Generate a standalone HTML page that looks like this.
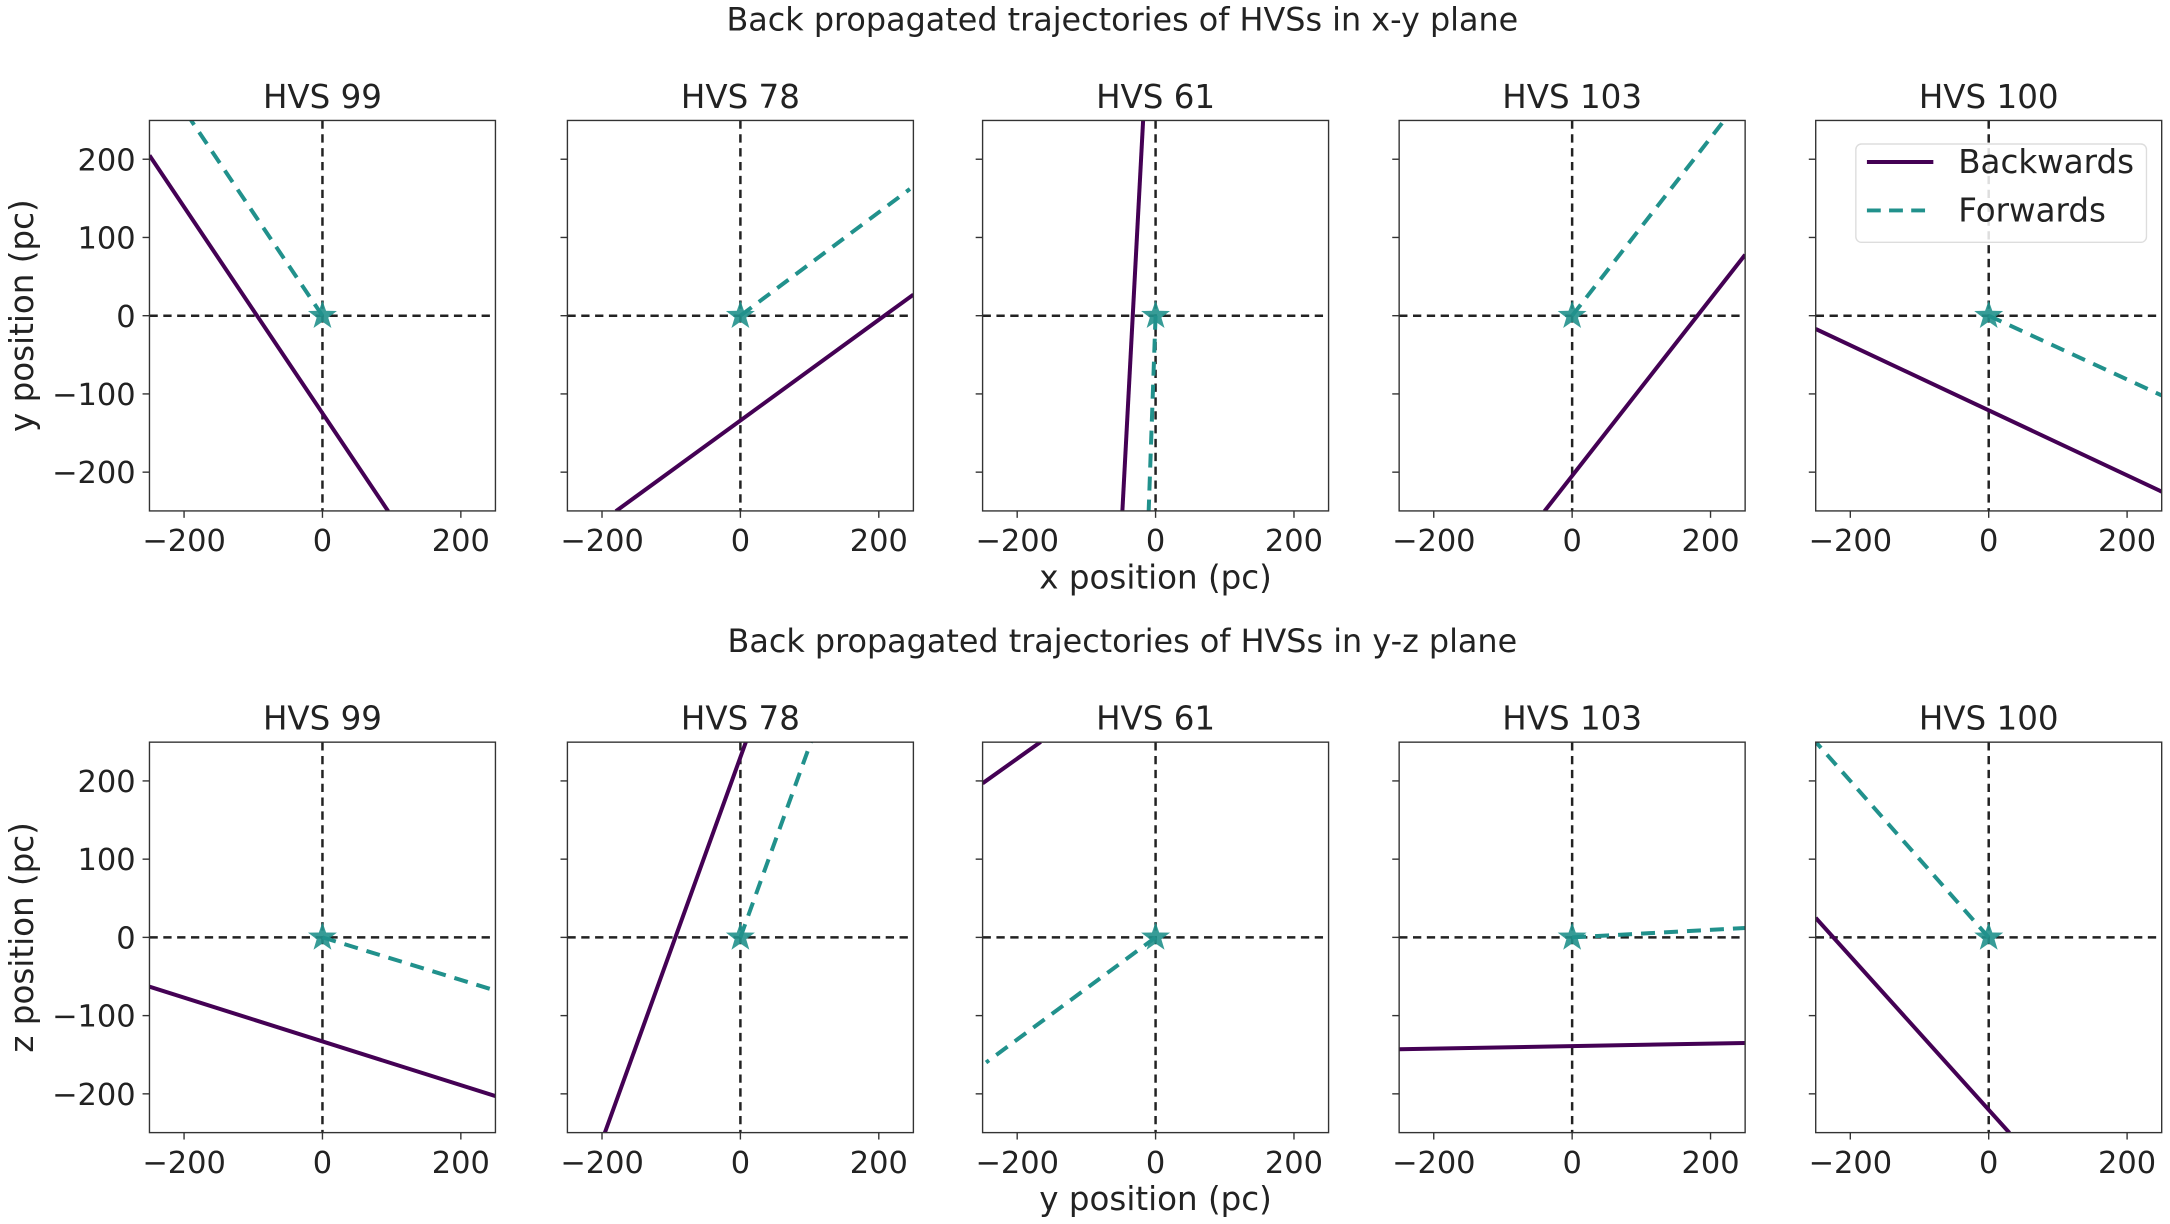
<!DOCTYPE html>
<html><head><meta charset="utf-8"><style>
html,body{margin:0;padding:0;background:#fff}
svg{display:block}
text{font-family:"DejaVu Sans","Liberation Sans",sans-serif;fill:#222}
</style></head><body>
<svg width="2170" height="1224" viewBox="0 0 1568 884" preserveAspectRatio="none" xmlns="http://www.w3.org/2000/svg">
<defs>
<clipPath id="c"><rect x="-125" y="-141" width="250" height="282"/></clipPath>
<g id="star"><polygon points="0,-11 2.6,-3.56 10.46,-3.4 4.18,1.36 6.47,8.9 0,4.4 -6.47,8.9 -4.18,1.36 -10.46,-3.4 -2.6,-3.56" fill="#21918c" opacity="0.9"/></g>
<g id="cross">
<line x1="-125" y1="0" x2="125" y2="0" stroke="#222" stroke-width="1.8" stroke-dasharray="6,4"/>
<line x1="0" y1="-141" x2="0" y2="141" stroke="#222" stroke-width="1.8" stroke-dasharray="6,4"/>
</g>
<g id="xt" stroke="#333" stroke-width="1">
<line x1="-100" y1="141" x2="-100" y2="146"/><line x1="0" y1="141" x2="0" y2="146"/><line x1="100" y1="141" x2="100" y2="146"/>
<line x1="-125" y1="-113" x2="-130" y2="-113"/><line x1="-125" y1="-56.5" x2="-130" y2="-56.5"/><line x1="-125" y1="0" x2="-130" y2="0"/><line x1="-125" y1="56.5" x2="-130" y2="56.5"/><line x1="-125" y1="113" x2="-130" y2="113"/>
</g>
<g id="xl" font-size="22" text-anchor="middle">
<text x="-100" y="170">−200</text><text x="0" y="170">0</text><text x="100" y="170">200</text>
</g>
<g id="yl" font-size="22" text-anchor="end">
<text x="-135" y="-105">200</text><text x="-135" y="-48.5">100</text><text x="-135" y="8">0</text><text x="-135" y="64.5">−100</text><text x="-135" y="121">−200</text>
</g>
</defs>

<text x="811" y="22" font-size="23" text-anchor="middle">Back propagated trajectories of HVSs in x-y plane</text>
<text x="811" y="471" font-size="23" text-anchor="middle">Back propagated trajectories of HVSs in y-z plane</text>
<text x="835" y="425" font-size="23.5" text-anchor="middle">x position (pc)</text>
<text x="835" y="874" font-size="23.5" text-anchor="middle">y position (pc)</text>
<text transform="translate(24,228) rotate(-90)" font-size="23.5" text-anchor="middle">y position (pc)</text>
<text transform="translate(24,677) rotate(-90)" font-size="23.5" text-anchor="middle">z position (pc)</text>

<!-- TOP ROW -->
<g transform="translate(233,228)">
<text x="0" y="-150" font-size="23.5" text-anchor="middle">HVS 99</text>
<g clip-path="url(#c)"><use href="#cross"/>
<g transform="scale(0.5,-0.5648)">
<line x1="-250" y1="205" x2="95" y2="-250" stroke="#440154" stroke-width="4" vector-effect="non-scaling-stroke"/>
<line x1="0" y1="0" x2="-190" y2="250" stroke="#21918c" stroke-width="4" stroke-dasharray="14,9" vector-effect="non-scaling-stroke"/>
</g><use href="#star"/></g>
<rect x="-125" y="-141" width="250" height="282" fill="none" stroke="#333" stroke-width="1"/>
<use href="#xt"/><use href="#xl"/><use href="#yl"/>
</g>

<g transform="translate(535,228)">
<text x="0" y="-150" font-size="23.5" text-anchor="middle">HVS 78</text>
<g clip-path="url(#c)"><use href="#cross"/>
<g transform="scale(0.5,-0.5648)">
<line x1="-180" y1="-250" x2="250" y2="27" stroke="#440154" stroke-width="4" vector-effect="non-scaling-stroke"/>
<line x1="0" y1="0" x2="245" y2="162" stroke="#21918c" stroke-width="4" stroke-dasharray="14,9" vector-effect="non-scaling-stroke"/>
</g><use href="#star"/></g>
<rect x="-125" y="-141" width="250" height="282" fill="none" stroke="#333" stroke-width="1"/>
<use href="#xt"/><use href="#xl"/>
</g>

<g transform="translate(835,228)">
<text x="0" y="-150" font-size="23.5" text-anchor="middle">HVS 61</text>
<g clip-path="url(#c)"><use href="#cross"/>
<g transform="scale(0.5,-0.5648)">
<line x1="-18" y1="250" x2="-48" y2="-250" stroke="#440154" stroke-width="4" vector-effect="non-scaling-stroke"/>
<line x1="0" y1="0" x2="-10" y2="-250" stroke="#21918c" stroke-width="4" stroke-dasharray="14,9" vector-effect="non-scaling-stroke"/>
</g><use href="#star"/></g>
<rect x="-125" y="-141" width="250" height="282" fill="none" stroke="#333" stroke-width="1"/>
<use href="#xt"/><use href="#xl"/>
</g>

<g transform="translate(1136,228)">
<text x="0" y="-150" font-size="23.5" text-anchor="middle">HVS 103</text>
<g clip-path="url(#c)"><use href="#cross"/>
<g transform="scale(0.5,-0.5648)">
<line x1="-40" y1="-250" x2="250" y2="78" stroke="#440154" stroke-width="4" vector-effect="non-scaling-stroke"/>
<line x1="0" y1="0" x2="220" y2="250" stroke="#21918c" stroke-width="4" stroke-dasharray="14,9" vector-effect="non-scaling-stroke"/>
</g><use href="#star"/></g>
<rect x="-125" y="-141" width="250" height="282" fill="none" stroke="#333" stroke-width="1"/>
<use href="#xt"/><use href="#xl"/>
</g>

<g transform="translate(1437,228)">
<text x="0" y="-150" font-size="23.5" text-anchor="middle">HVS 100</text>
<g clip-path="url(#c)"><use href="#cross"/>
<g transform="scale(0.5,-0.5648)">
<line x1="-250" y1="-17" x2="250" y2="-225" stroke="#440154" stroke-width="4" vector-effect="non-scaling-stroke"/>
<line x1="0" y1="0" x2="250" y2="-102" stroke="#21918c" stroke-width="4" stroke-dasharray="14,9" vector-effect="non-scaling-stroke"/>
</g><use href="#star"/></g>
<rect x="-125" y="-141" width="250" height="282" fill="none" stroke="#333" stroke-width="1"/>
<use href="#xt"/><use href="#xl"/>
<rect x="-96" y="-124" width="210" height="71" rx="4" fill="#fff" fill-opacity="0.85" stroke="#ddd" stroke-width="1"/>
<line x1="-88" y1="-111" x2="-40" y2="-111" stroke="#440154" stroke-width="2.8"/>
<line x1="-88" y1="-76" x2="-40" y2="-76" stroke="#21918c" stroke-width="2.8" stroke-dasharray="10,6"/>
<text x="-22" y="-103" font-size="23.5">Backwards</text>
<text x="-22" y="-68" font-size="23.5">Forwards</text>
</g>

<!-- BOTTOM ROW -->
<g transform="translate(233,677)">
<text x="0" y="-150" font-size="23.5" text-anchor="middle">HVS 99</text>
<g clip-path="url(#c)"><use href="#cross"/>
<g transform="scale(0.5,-0.5648)">
<line x1="-250" y1="-63" x2="250" y2="-203" stroke="#440154" stroke-width="4" vector-effect="non-scaling-stroke"/>
<line x1="0" y1="0" x2="250" y2="-68" stroke="#21918c" stroke-width="4" stroke-dasharray="14,9" vector-effect="non-scaling-stroke"/>
</g><use href="#star"/></g>
<rect x="-125" y="-141" width="250" height="282" fill="none" stroke="#333" stroke-width="1"/>
<use href="#xt"/><use href="#xl"/><use href="#yl"/>
</g>

<g transform="translate(535,677)">
<text x="0" y="-150" font-size="23.5" text-anchor="middle">HVS 78</text>
<g clip-path="url(#c)"><use href="#cross"/>
<g transform="scale(0.5,-0.5648)">
<line x1="-196" y1="-250" x2="8" y2="250" stroke="#440154" stroke-width="4" vector-effect="non-scaling-stroke"/>
<line x1="0" y1="0" x2="102" y2="250" stroke="#21918c" stroke-width="4" stroke-dasharray="14,9" vector-effect="non-scaling-stroke"/>
</g><use href="#star"/></g>
<rect x="-125" y="-141" width="250" height="282" fill="none" stroke="#333" stroke-width="1"/>
<use href="#xt"/><use href="#xl"/>
</g>

<g transform="translate(835,677)">
<text x="0" y="-150" font-size="23.5" text-anchor="middle">HVS 61</text>
<g clip-path="url(#c)"><use href="#cross"/>
<g transform="scale(0.5,-0.5648)">
<line x1="-250" y1="197" x2="-166" y2="250" stroke="#440154" stroke-width="4" vector-effect="non-scaling-stroke"/>
<line x1="0" y1="0" x2="-245" y2="-160" stroke="#21918c" stroke-width="4" stroke-dasharray="14,9" vector-effect="non-scaling-stroke"/>
</g><use href="#star"/></g>
<rect x="-125" y="-141" width="250" height="282" fill="none" stroke="#333" stroke-width="1"/>
<use href="#xt"/><use href="#xl"/>
</g>

<g transform="translate(1136,677)">
<text x="0" y="-150" font-size="23.5" text-anchor="middle">HVS 103</text>
<g clip-path="url(#c)"><use href="#cross"/>
<g transform="scale(0.5,-0.5648)">
<line x1="-250" y1="-143" x2="250" y2="-135" stroke="#440154" stroke-width="4" vector-effect="non-scaling-stroke"/>
<line x1="0" y1="0" x2="250" y2="12" stroke="#21918c" stroke-width="4" stroke-dasharray="14,9" vector-effect="non-scaling-stroke"/>
</g><use href="#star"/></g>
<rect x="-125" y="-141" width="250" height="282" fill="none" stroke="#333" stroke-width="1"/>
<use href="#xt"/><use href="#xl"/>
</g>

<g transform="translate(1437,677)">
<text x="0" y="-150" font-size="23.5" text-anchor="middle">HVS 100</text>
<g clip-path="url(#c)"><use href="#cross"/>
<g transform="scale(0.5,-0.5648)">
<line x1="-250" y1="25" x2="30" y2="-250" stroke="#440154" stroke-width="4" vector-effect="non-scaling-stroke"/>
<line x1="0" y1="0" x2="-250" y2="250" stroke="#21918c" stroke-width="4" stroke-dasharray="14,9" vector-effect="non-scaling-stroke"/>
</g><use href="#star"/></g>
<rect x="-125" y="-141" width="250" height="282" fill="none" stroke="#333" stroke-width="1"/>
<use href="#xt"/><use href="#xl"/>
</g>
</svg>
</body></html>
